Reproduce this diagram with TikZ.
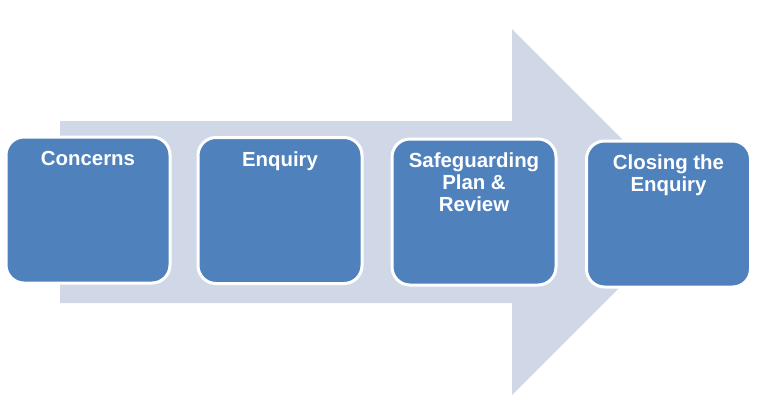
\documentclass[tikz,border=0pt]{standalone}
\usepackage{fontspec}
\newfontfamily\stagefont{Liberation Sans}
\definecolor{arrowfill}{RGB}{208,216,232}
\definecolor{stageblue}{RGB}{79,129,189}
\tikzset{
  stage/.style={draw=white, line width=2.25pt, fill=stageblue, rounded corners=13.5pt,
    minimum width=123pt, minimum height=109.5pt, inner sep=0pt},
  stagetext/.style={anchor=north, inner sep=0pt, text=white, align=center,
    font=\stagefont\bfseries\fontsize{15.3pt}{16.3pt}\selectfont}
}
\begin{document}
\begin{tikzpicture}[x=0.75pt,y=0.75pt,yscale=-1,xscale=1]
	\useasboundingbox (0,0) rectangle (768,412);
	% big process arrow
	\fill [arrowfill] (60,121) -- (512,121) -- (512,29) -- (695,212) -- (512,395) -- (512,303) -- (60,303) -- cycle ;
	% stages
	\node [stage] (concerns) at (88,210) {};
	\node [stage] (enquiry) at (280,210.5) {};
	\node [stage] (plan) at (474,212) {};
	\node [stage] (closing) at (668.5,214) {};
	\node [stagetext] (concernstext) at ([yshift=11.5pt]concerns.north) {Concerns};
	\node [stagetext] (enquirytext) at ([yshift=11.5pt]enquiry.north) {Enquiry};
	\node [stagetext] (plantext) at ([yshift=11.5pt]plan.north) {Safeguarding\\Plan \&\\Review};
	\node [stagetext] (closingtext) at ([yshift=11.5pt]closing.north) {Closing the\\Enquiry};
\end{tikzpicture}
\end{document}
